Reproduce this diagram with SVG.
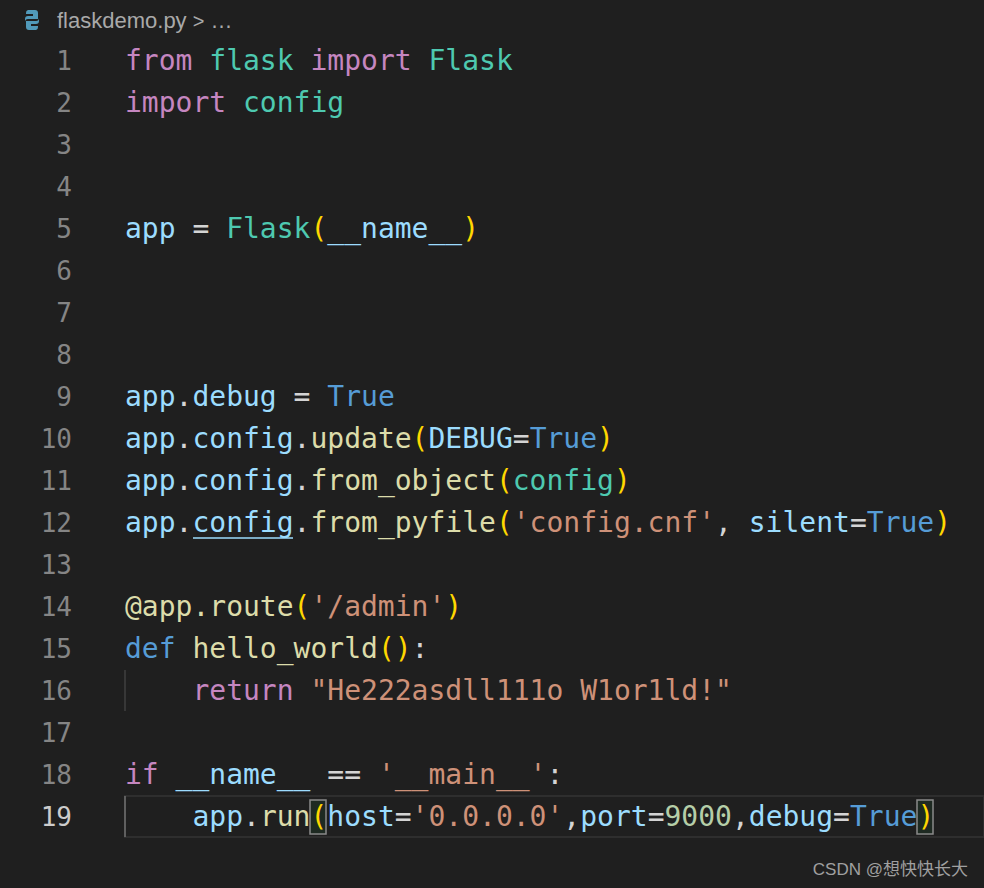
<svg xmlns="http://www.w3.org/2000/svg" width="984" height="888" viewBox="0 0 984 888">
<style>
.c{font-family:"DejaVu Sans Mono","Liberation Mono",monospace;font-size:28px;white-space:pre}
.n{font-family:"DejaVu Sans Mono",monospace;font-size:26px;fill:#858585;text-anchor:end}
.k{fill:#C586C0}.m{fill:#4EC9B0}.v{fill:#9CDCFE}.f{fill:#DCDCAA}.s{fill:#CE9178}.d{fill:#B5CEA8}.b{fill:#569CD6}.o{fill:#D4D4D4}.y{fill:#FFD700}.p{fill:#DA70D6}
</style>
<rect width="984" height="888" fill="#1F1F1F"/>
<g id="breadcrumb">
<g fill="#519ABA"><path d="M28 10h7a3 3 0 0 1 3 3v6h-10a3 3 0 0 0-3 3v-3a3 3 0 0 1 3-3h5v-2h-7v-1a3 3 0 0 1 2-3z"/><path d="M36 30h-7a3 3 0 0 1-3-3v-6h10a3 3 0 0 0 3-3v3a3 3 0 0 1-3 3h-5v2h7v1a3 3 0 0 1-2 3z"/></g>
<text x="57" y="28" font-family="Liberation Sans,Arial,sans-serif" font-size="22" fill="#A9A9A9">flaskdemo.py <tspan font-size="20">&gt;</tspan> …</text>
</g>
<rect id="current-line" x="125" y="796" width="859" height="41" fill="none" stroke="#2E2E2E" stroke-width="2"/>
<line x1="125" y1="670" x2="125" y2="711" stroke="#404040" stroke-width="1.5"/>
<line x1="125" y1="796" x2="125" y2="837" stroke="#707070" stroke-width="1.5"/>
<rect x="310" y="800" width="16" height="34" fill="#1E2A22" stroke="#8A8A8A" stroke-width="1.5"/>
<rect x="917" y="800" width="16" height="34" fill="#1E2A22" stroke="#8A8A8A" stroke-width="1.5"/>
<g id="numbers">
<text class="n" x="72" y="70">1</text><text class="n" x="72" y="112">2</text><text class="n" x="72" y="154">3</text><text class="n" x="72" y="196">4</text><text class="n" x="72" y="238">5</text><text class="n" x="72" y="280">6</text><text class="n" x="72" y="322">7</text><text class="n" x="72" y="364">8</text><text class="n" x="72" y="406">9</text><text class="n" x="72" y="448">10</text><text class="n" x="72" y="490">11</text><text class="n" x="72" y="532">12</text><text class="n" x="72" y="574">13</text><text class="n" x="72" y="616">14</text><text class="n" x="72" y="658">15</text><text class="n" x="72" y="700">16</text><text class="n" x="72" y="742">17</text><text class="n" x="72" y="784">18</text><text class="n" x="72" y="826" style="fill:#CCCCCC">19</text>
</g>
<g id="code">
<text class="c" x="125" y="70"><tspan class="k">from</tspan> <tspan class="m">flask</tspan> <tspan class="k">import</tspan> <tspan class="m">Flask</tspan></text>
<text class="c" x="125" y="112"><tspan class="k">import</tspan> <tspan class="m">config</tspan></text>
<text class="c" x="125" y="238"><tspan class="v">app</tspan><tspan class="o"> = </tspan><tspan class="m">Flask</tspan><tspan class="y">(</tspan><tspan class="v">__name__</tspan><tspan class="y">)</tspan></text>
<text class="c" x="125" y="406"><tspan class="v">app</tspan><tspan class="o">.</tspan><tspan class="v">debug</tspan><tspan class="o"> = </tspan><tspan class="b">True</tspan></text>
<text class="c" x="125" y="448"><tspan class="v">app</tspan><tspan class="o">.</tspan><tspan class="v">config</tspan><tspan class="o">.</tspan><tspan class="f">update</tspan><tspan class="y">(</tspan><tspan class="v">DEBUG</tspan><tspan class="o">=</tspan><tspan class="b">True</tspan><tspan class="y">)</tspan></text>
<text class="c" x="125" y="490"><tspan class="v">app</tspan><tspan class="o">.</tspan><tspan class="v">config</tspan><tspan class="o">.</tspan><tspan class="f">from_object</tspan><tspan class="y">(</tspan><tspan class="m">config</tspan><tspan class="y">)</tspan></text>
<text class="c" x="125" y="532"><tspan class="v">app</tspan><tspan class="o">.</tspan><tspan class="v">config</tspan><tspan class="o">.</tspan><tspan class="f">from_pyfile</tspan><tspan class="y">(</tspan><tspan class="s">'config.cnf'</tspan><tspan class="o">, </tspan><tspan class="v">silent</tspan><tspan class="o">=</tspan><tspan class="b">True</tspan><tspan class="y">)</tspan></text>
<line x1="193" y1="538" x2="293" y2="538" stroke="#9CDCFE" stroke-width="1.5"/>
<text class="c" x="125" y="616"><tspan class="f">@app.route</tspan><tspan class="y">(</tspan><tspan class="s">'/admin'</tspan><tspan class="y">)</tspan></text>
<text class="c" x="125" y="658"><tspan class="b">def</tspan> <tspan class="f">hello_world</tspan><tspan class="y">()</tspan><tspan class="o">:</tspan></text>
<text class="c" x="125" y="700">    <tspan class="k">return</tspan> <tspan class="s">"He222asdll111o W1or1ld!"</tspan></text>
<text class="c" x="125" y="784"><tspan class="k">if</tspan> <tspan class="v">__name__</tspan><tspan class="o"> == </tspan><tspan class="s">'__main__'</tspan><tspan class="o">:</tspan></text>
<text class="c" x="125" y="826">    <tspan class="v">app</tspan><tspan class="o">.</tspan><tspan class="f">run</tspan><tspan class="y">(</tspan><tspan class="v">host</tspan><tspan class="o">=</tspan><tspan class="s">'0.0.0.0'</tspan><tspan class="o">,</tspan><tspan class="v">port</tspan><tspan class="o">=</tspan><tspan class="d">9000</tspan><tspan class="o">,</tspan><tspan class="v">debug</tspan><tspan class="o">=</tspan><tspan class="b">True</tspan><tspan class="y">)</tspan></text>
</g>
<text x="968" y="875" text-anchor="end" font-family="Liberation Sans,'Noto Sans CJK SC',sans-serif" font-size="17" fill="#A0A0A0">CSDN @想快快长大</text>
</svg>
